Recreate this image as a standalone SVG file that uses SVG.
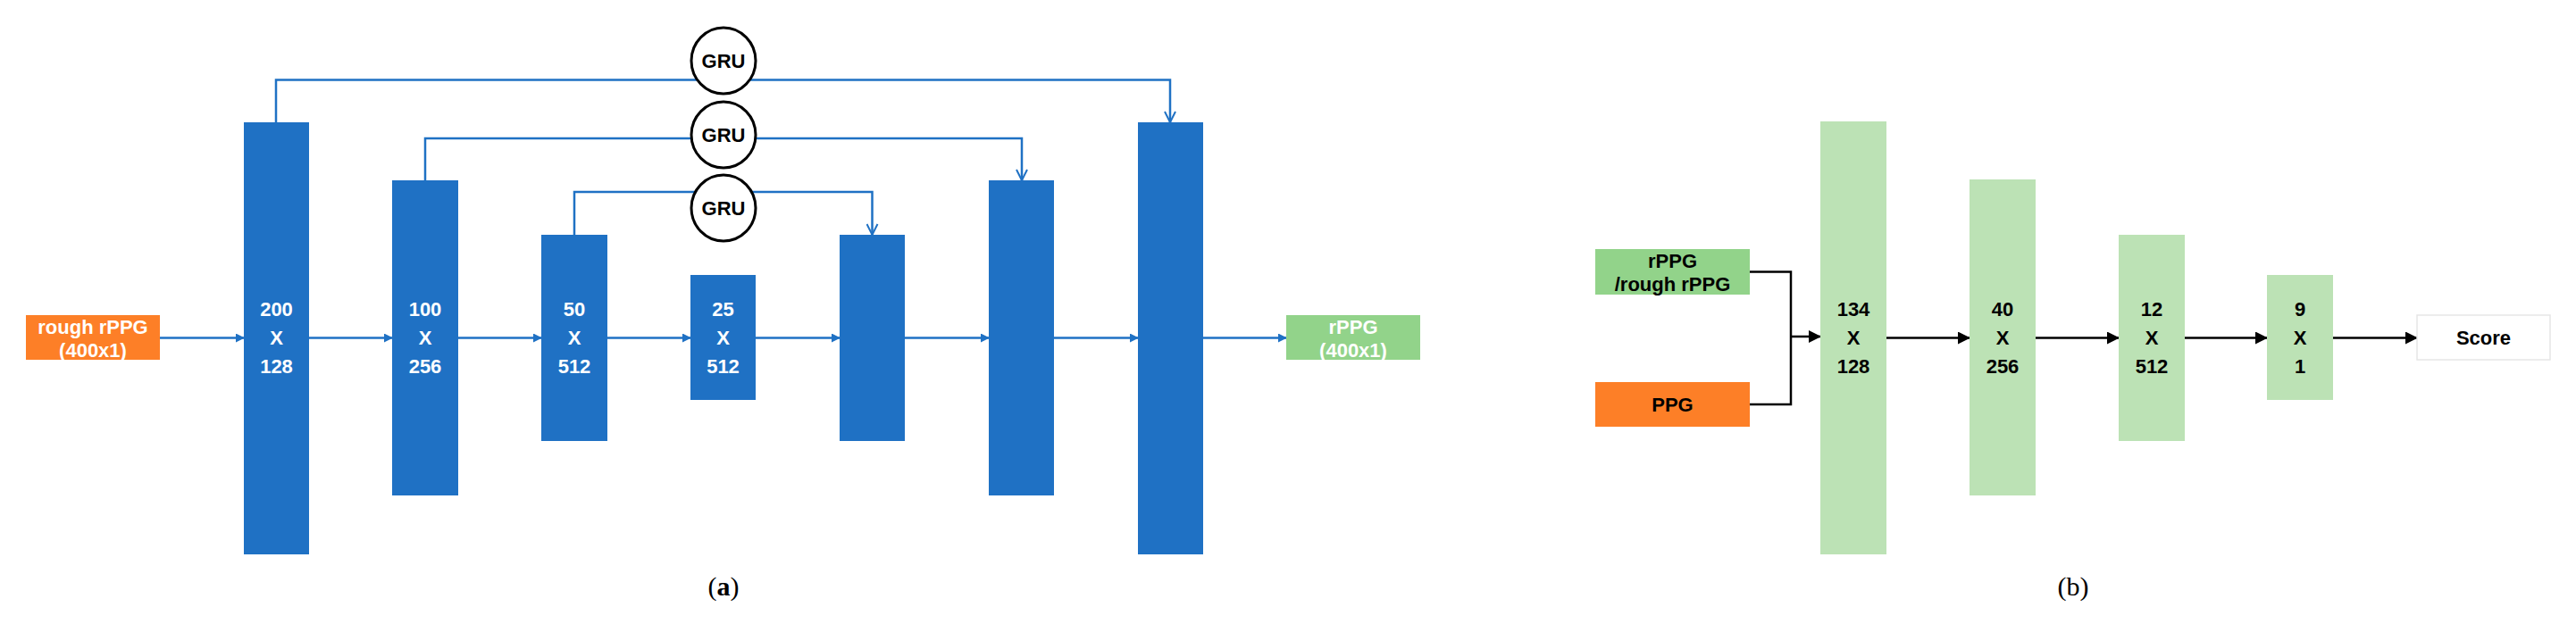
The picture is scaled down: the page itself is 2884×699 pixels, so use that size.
<svg xmlns="http://www.w3.org/2000/svg" width="2884" height="699" viewBox="0 0 2884 699">
<style>
.b{fill:#1F71C4}.g{fill:#BCE2B5}.t{font-family:"Liberation Sans",Arial,sans-serif;font-weight:bold;font-size:22px;text-anchor:middle}
.w{fill:#fff}.k{fill:#000}.bl{stroke:#1F71C4;stroke-width:2.5;fill:none}.kl{stroke:#000;stroke-width:2.5;fill:none}
.cap{font-family:"Liberation Serif",serif;font-size:30px;text-anchor:middle}
</style>
<defs>
<marker id="ab" markerWidth="10" markerHeight="10" refX="9" refY="5" orient="auto" markerUnits="userSpaceOnUse" viewBox="0 0 10 10"><path d="M0,0L10,5L0,10z" fill="#1F71C4"/></marker>
<marker id="ao" markerWidth="14" markerHeight="14" refX="13" refY="7" orient="auto" markerUnits="userSpaceOnUse" viewBox="0 0 14 14"><path d="M1,1L13,7L1,13" fill="none" stroke="#1F71C4" stroke-width="2"/></marker>
<marker id="ak" markerWidth="14" markerHeight="14" refX="13" refY="7" orient="auto" markerUnits="userSpaceOnUse" viewBox="0 0 14 14"><path d="M0,0L14,7L0,14z" fill="#000"/></marker>
</defs>
<g id="connectors">
<path class="bl" marker-end="url(#ab)" d="M179,378.5H273"/>
<path class="bl" marker-end="url(#ab)" d="M346,378.5H439"/>
<path class="bl" marker-end="url(#ab)" d="M513,378.5H606"/>
<path class="bl" marker-end="url(#ab)" d="M680,378.5H773"/>
<path class="bl" marker-end="url(#ab)" d="M846,378.5H940"/>
<path class="bl" marker-end="url(#ab)" d="M1013,378.5H1107"/>
<path class="bl" marker-end="url(#ab)" d="M1180,378.5H1274"/>
<path class="bl" marker-end="url(#ab)" d="M1347,378.5H1440"/>
<path class="bl" marker-end="url(#ao)" d="M309,137V89.5H1310V137"/>
<path class="bl" marker-end="url(#ao)" d="M476,202V155H1144V202"/>
<path class="bl" marker-end="url(#ao)" d="M643,263V215H976.5V263"/>
<path class="kl" d="M1959,304.5H2005V453H1959"/>
<path class="kl" marker-end="url(#ak)" d="M2005,377H2038"/>
<path class="kl" marker-end="url(#ak)" d="M2112,378.5H2205"/>
<path class="kl" marker-end="url(#ak)" d="M2279,378.5H2372"/>
<path class="kl" marker-end="url(#ak)" d="M2446,378.5H2538"/>
<path class="kl" marker-end="url(#ak)" d="M2612,378.5H2706"/>
</g>
<g id="gru1"><ellipse cx="810" cy="68" rx="36" ry="37" fill="#fff" stroke="#000" stroke-width="3"/><text class="t k" x="810" y="76">GRU</text></g>
<g id="gru2"><ellipse cx="810" cy="151" rx="36" ry="37" fill="#fff" stroke="#000" stroke-width="3"/><text class="t k" x="810" y="159">GRU</text></g>
<g id="gru3"><ellipse cx="810" cy="233" rx="36" ry="37" fill="#fff" stroke="#000" stroke-width="3"/><text class="t k" x="810" y="241">GRU</text></g>
<g id="in-a"><rect x="29" y="353" width="150" height="50" fill="#FD7F27"/><text class="t w" x="104" y="374">rough rPPG</text><text class="t w" x="104" y="400">(400x1)</text></g>
<g id="e1"><rect class="b" x="273" y="137" width="73" height="484"/><text class="t w" x="309.5" y="354">200</text><text class="t w" x="309.5" y="386">X</text><text class="t w" x="309.5" y="418">128</text></g>
<g id="e2"><rect class="b" x="439" y="202" width="74" height="353"/><text class="t w" x="476" y="354">100</text><text class="t w" x="476" y="386">X</text><text class="t w" x="476" y="418">256</text></g>
<g id="e3"><rect class="b" x="606" y="263" width="74" height="231"/><text class="t w" x="643" y="354">50</text><text class="t w" x="643" y="386">X</text><text class="t w" x="643" y="418">512</text></g>
<g id="e4"><rect class="b" x="773" y="308" width="73" height="140"/><text class="t w" x="809.5" y="354">25</text><text class="t w" x="809.5" y="386">X</text><text class="t w" x="809.5" y="418">512</text></g>
<g id="d3"><rect class="b" x="940" y="263" width="73" height="231"/></g>
<g id="d2"><rect class="b" x="1107" y="202" width="73" height="353"/></g>
<g id="d1"><rect class="b" x="1274" y="137" width="73" height="484"/></g>
<g id="out-a"><rect x="1440" y="353" width="150" height="50" fill="#92D38A"/><text class="t w" x="1515" y="374">rPPG</text><text class="t w" x="1515" y="400">(400x1)</text></g>
<text class="cap" x="810" y="667">(<tspan font-weight="bold">a</tspan>)</text>
<g id="in-b1"><rect x="1786" y="279" width="173" height="51" fill="#92D38A"/><text class="t k" x="1872.5" y="300">rPPG</text><text class="t k" x="1872.5" y="326">/rough rPPG</text></g>
<g id="in-b2"><rect x="1786" y="428" width="173" height="50" fill="#FD7F27"/><text class="t k" x="1872.5" y="461">PPG</text></g>
<g id="c1"><rect class="g" x="2038" y="136" width="74" height="485"/><text class="t k" x="2075" y="354">134</text><text class="t k" x="2075" y="386">X</text><text class="t k" x="2075" y="418">128</text></g>
<g id="c2"><rect class="g" x="2205" y="201" width="74" height="354"/><text class="t k" x="2242" y="354">40</text><text class="t k" x="2242" y="386">X</text><text class="t k" x="2242" y="418">256</text></g>
<g id="c3"><rect class="g" x="2372" y="263" width="74" height="231"/><text class="t k" x="2409" y="354">12</text><text class="t k" x="2409" y="386">X</text><text class="t k" x="2409" y="418">512</text></g>
<g id="c4"><rect class="g" x="2538" y="308" width="74" height="140"/><text class="t k" x="2575" y="354">9</text><text class="t k" x="2575" y="386">X</text><text class="t k" x="2575" y="418">1</text></g>
<g id="score"><rect x="2706" y="353" width="149" height="50" fill="#fff" stroke="#E6E6E6" stroke-width="1.5"/><text class="t k" x="2780.5" y="386">Score</text></g>
<text class="cap" x="2321" y="667">(b)</text>
</svg>
